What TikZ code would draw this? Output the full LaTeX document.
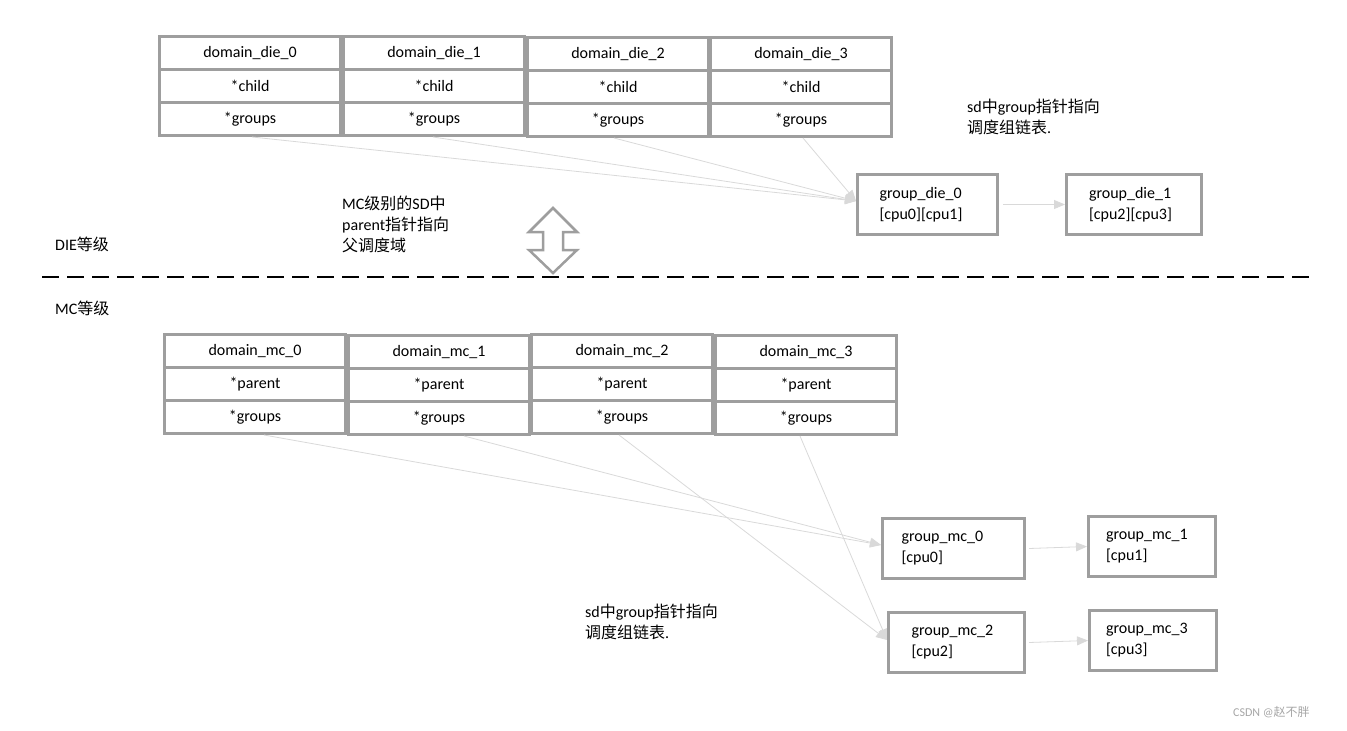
\documentclass[tikz,border=0pt]{standalone}
\usepackage{fontspec}
\setmainfont{Carlito}
\newfontfamily\cjk{Noto Sans CJK SC}
\usetikzlibrary{arrows.meta}
\begin{document}
\begin{tikzpicture}[x=1pt,y=-1pt,
  box/.style={draw=black!38,line width=3pt,rectangle,inner sep=0pt,anchor=north west,minimum width=181pt,minimum height=33pt,font=\fontsize{16}{18}\selectfont,fill=white},
  grp/.style={draw=black!38,line width=3pt,rectangle,inner sep=0pt,anchor=north west,minimum height=60pt,font=\fontsize{16}{21}\selectfont,align=left,text width=#1,fill=white},
  ptr/.style={draw=black!15,line width=0.8pt,-{Triangle[length=11pt,width=9pt]}},
  lbl/.style={anchor=north west,align=left,inner sep=0pt,font=\fontsize{16}{21}\selectfont}]
\useasboundingbox (0,0) rectangle (1347,731);
% top row
\foreach \i/\x/\y in {0/158/35,1/342/35,2/526/36,3/709/36}{
  \node[box] (dn\i) at (\x,\y) {domain\_die\_\i};
  \node[box] (dc\i) at (\x,\y+33) {*child};
  \node[box] (dg\i) at (\x,\y+66) {*groups};
}
\foreach \i/\x/\y in {0/163/333,1/347/334,2/530/333,3/714/334}{
  \node[box] (mn\i) at (\x,\y) {domain\_mc\_\i};
  \node[box] (mp\i) at (\x,\y+33) {*parent};
  \node[box] (mg\i) at (\x,\y+66) {*groups};
}
\node[grp=120pt,minimum width=140pt] (gd0) at (856,173) {\hspace*{12pt}group\_die\_0\\\hspace*{12pt}[cpu0][cpu1]};
\node[grp=118pt,minimum width=135pt] (gd1) at (1065,173) {\hspace*{14pt}group\_die\_1\\\hspace*{14pt}[cpu2][cpu3]};
\node[grp=128pt,minimum width=142pt] (gm0) at (881,517) {\hspace*{12pt}group\_mc\_0\\\hspace*{12pt}[cpu0]};
\node[grp=120pt,minimum width=127pt] (gm1) at (1087,515) {\hspace*{14pt}group\_mc\_1\\\hspace*{14pt}[cpu1]};
\node[grp=122pt,minimum width=136pt] (gm2) at (887,611) {\hspace*{16pt}group\_mc\_2\\\hspace*{16pt}[cpu2]};
\node[grp=120pt,minimum width=127pt] (gm3) at (1088,609) {\hspace*{13pt}group\_mc\_3\\\hspace*{13pt}[cpu3]};
% pointers
\coordinate (t0) at (856,201);
\draw[ptr] ([xshift=-340pt+250pt]dg0.south east) -- (t0);
\draw[ptr] ([xshift=-93pt]dg1.south east) -- (t0);
\draw[ptr] ([xshift=-96pt]dg2.south east) -- (t0);
\draw[ptr] ([xshift=-90pt]dg3.south east) -- (t0);
\draw[ptr] (gd0.east) ++(4pt,0) -- (gd1.west);
\coordinate (t1) at (881,545);
\coordinate (t2) at (887,640);
\draw[ptr] ([xshift=-83pt]mg0.south east) -- (t1);
\draw[ptr] ([xshift=-67pt]mg1.south east) -- (t1);
\draw[ptr] ([xshift=-95pt]mg2.south east) -- (t2);
\draw[ptr] ([xshift=-98pt]mg3.south east) -- (t2);
\draw[ptr] ([xshift=3pt]gm0.east) -- (gm1.west);
\draw[ptr] ([xshift=3pt]gm2.east) -- (gm3.west);
% separator
\draw[line width=2.5pt,dash pattern=on 17pt off 8pt] (42,277) -- (1310,277);
\node[lbl] (ldie) at (55,237) {DIE{\cjk 等级}};
\node[lbl] (lmc) at (55,301) {MC{\cjk 等级}};
\node[lbl] (lsd1) at (967,99) {sd{\cjk 中}group{\cjk 指针指向}\\{\cjk 调度组链表}.};
\node[lbl] (lsd2) at (585,604) {sd{\cjk 中}group{\cjk 指针指向}\\{\cjk 调度组链表}.};
\node[lbl] (lmcp) at (342,196) {MC{\cjk 级别的}SD{\cjk 中}\\parent{\cjk 指针指向}\\{\cjk 父调度域}};
% double arrow
\draw[draw=black!38,line width=2.5pt,line join=miter,fill=white] (553,208) -- (577,232) -- (563,232) -- (563,250) -- (577,250) -- (553,273) -- (529,250) -- (543,250) -- (543,232) -- (529,232) -- cycle;
\node[anchor=north west,inner sep=0pt,text=black!35,font=\fontsize{12}{14}\selectfont] (wm) at (1233,706) {CSDN @{\cjk 赵不胖}};
\end{tikzpicture}
\end{document}
